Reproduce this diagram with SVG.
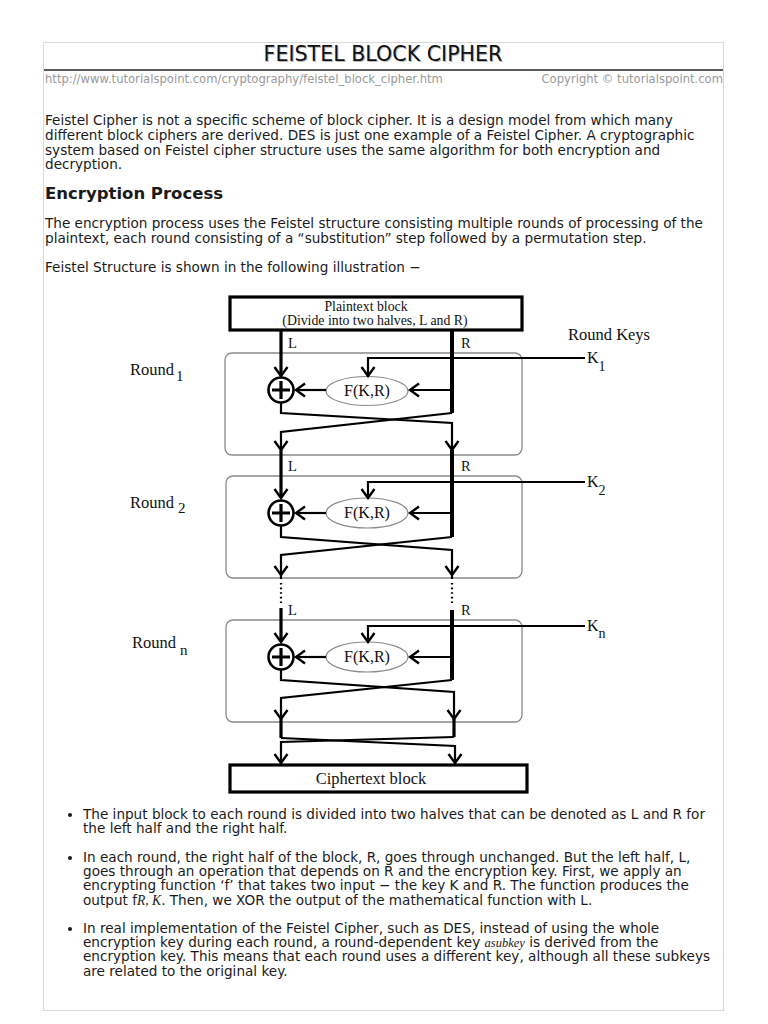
<svg xmlns="http://www.w3.org/2000/svg" width="768" height="1024" viewBox="0 0 768 1024">
<style>
.body{font-family:"DejaVu Sans","Liberation Sans",sans-serif;font-size:13.6px;fill:#1a1a1a}
.head{font-family:"DejaVu Sans","Liberation Sans",sans-serif;font-size:16.5px;font-weight:bold;fill:#1a1a1a}
.ser{font-family:"Liberation Serif","Times New Roman",serif;fill:#111}
.it{font-family:"Liberation Serif","Times New Roman",serif;font-style:italic}
.thick{fill:none;stroke:#000;stroke-width:3.2}
.thin{fill:none;stroke:#000;stroke-width:2.2}
.rbox{fill:none;stroke:#8a8a8a;stroke-width:1.3}
.fn{fill:#fff;stroke:#8a8a8a;stroke-width:1.2}
.xor{fill:#fff;stroke:#000;stroke-width:2.6}
.plus{stroke:#000;stroke-width:3.2}
.blk{fill:#fff;stroke:#000;stroke-width:3.2}
.dot{fill:none;stroke:#000;stroke-width:2.2;stroke-dasharray:1.6 3}
</style>
<defs>
<marker id="ah" viewBox="-11 -9 13 18" refX="0" refY="0" markerWidth="13" markerHeight="18" orient="auto" markerUnits="userSpaceOnUse">
<path d="M-9,-6.5 L0,0 L-9,6.5" fill="none" stroke="#000" stroke-width="2.4"/>
</marker>
</defs>
<rect width="768" height="1024" fill="#fff"/>
<g id="page">
<rect x="43.5" y="42.5" width="680" height="968" fill="none" stroke="#d8d8d8" stroke-width="1"/>
<text x="384" y="62" text-anchor="middle" font-family="DejaVu Sans, sans-serif" font-size="20.6" fill="#bbb">FEISTEL BLOCK CIPHER</text>
<text x="383" y="61" text-anchor="middle" font-family="DejaVu Sans, sans-serif" font-size="20.6" fill="#111">FEISTEL BLOCK CIPHER</text>
<line x1="44" y1="70" x2="723" y2="70" stroke="#5a5a5a" stroke-width="2"/>
<text x="45" y="83" font-family="DejaVu Sans, sans-serif" font-size="11.6" fill="#9a9a9a">http://www.tutorialspoint.com/cryptography/feistel_block_cipher.htm</text>
<text x="723" y="83" text-anchor="end" font-family="DejaVu Sans, sans-serif" font-size="11.6" fill="#9a9a9a">Copyright © tutorialspoint.com</text>
<text class="body" x="45" y="125">Feistel Cipher is not a specific scheme of block cipher. It is a design model from which many</text>
<text class="body" x="45" y="140">different block ciphers are derived. DES is just one example of a Feistel Cipher. A cryptographic</text>
<text class="body" x="45" y="155">system based on Feistel cipher structure uses the same algorithm for both encryption and</text>
<text class="body" x="45" y="169">decryption.</text>
<text class="head" x="45" y="199">Encryption Process</text>
<text class="body" x="45" y="228">The encryption process uses the Feistel structure consisting multiple rounds of processing of the</text>
<text class="body" x="45" y="243">plaintext, each round consisting of a “substitution” step followed by a permutation step.</text>
<text class="body" x="45" y="272">Feistel Structure is shown in the following illustration −</text>
<circle cx="70" cy="815" r="2" fill="#1a1a1a"/>
<text class="body" x="83" y="819">The input block to each round is divided into two halves that can be denoted as L and R for</text>
<text class="body" x="83" y="833">the left half and the right half.</text>
<circle cx="70" cy="858" r="2" fill="#1a1a1a"/>
<text class="body" x="83" y="862">In each round, the right half of the block, R, goes through unchanged. But the left half, L,</text>
<text class="body" x="83" y="876">goes through an operation that depends on R and the encryption key. First, we apply an</text>
<text class="body" x="83" y="890">encrypting function ‘f’ that takes two input − the key K and R. The function produces the</text>
<text class="body" x="83" y="905">output f<tspan class="it">R, K</tspan>. Then, we XOR the output of the mathematical function with L.</text>
<circle cx="70" cy="929" r="2" fill="#1a1a1a"/>
<text class="body" x="83" y="933">In real implementation of the Feistel Cipher, such as DES, instead of using the whole</text>
<text class="body" x="83" y="947">encryption key during each round, a round-dependent key <tspan class="it" font-size="12.5">asubkey</tspan> is derived from the</text>
<text class="body" x="83" y="961">encryption key. This means that each round uses a different key, although all these subkeys</text>
<text class="body" x="83" y="976">are related to the original key.</text>
</g>
<g id="plaintext">
<rect class="blk" x="230" y="297" width="292" height="33"/>
<text class="ser" x="366" y="311" text-anchor="middle" font-size="13.8">Plaintext block</text>
<text class="ser" x="375" y="325" text-anchor="middle" font-size="13.8">(Divide into two halves, L and R)</text>
</g>
<g id="round-keys">
<text class="ser" x="568" y="340" font-size="16.5">Round Keys</text>
<text class="ser" x="587" y="363" font-size="16">K<tspan font-size="14" dy="8">1</tspan></text>
<text class="ser" x="587" y="487" font-size="16">K<tspan font-size="14" dy="8">2</tspan></text>
<text class="ser" x="587" y="631" font-size="16">K<tspan font-size="14" dy="7">n</tspan></text>
</g>
<g id="round1">
<rect class="rbox" x="225" y="353" width="297" height="102" rx="7"/>
<text class="ser" x="130" y="375" font-size="16.5">Round<tspan font-size="15" dx="2" dy="6">1</tspan></text>
<ellipse class="fn" cx="367" cy="391" rx="41" ry="14.5"/>
<text class="ser" x="367" y="396" text-anchor="middle" font-size="16">F(K,R)</text>
<circle class="xor" cx="281" cy="390" r="12.5"/>
<path class="plus" d="M272,390 H290 M281,381 V399"/>
</g>
<g id="round2">
<rect class="rbox" x="226" y="476" width="296" height="102" rx="7"/>
<text class="ser" x="130" y="508" font-size="16.5">Round<tspan font-size="15" dx="4" dy="5">2</tspan></text>
<ellipse class="fn" cx="367" cy="513" rx="41" ry="15"/>
<text class="ser" x="367" y="518" text-anchor="middle" font-size="16">F(K,R)</text>
<circle class="xor" cx="281" cy="513" r="12.5"/>
<path class="plus" d="M272,513 H290 M281,504 V522"/>
</g>
<g id="roundn">
<rect class="rbox" x="226" y="620" width="296" height="102" rx="7"/>
<text class="ser" x="132" y="648" font-size="16.5">Round<tspan font-size="15" dx="4" dy="7">n</tspan></text>
<ellipse class="fn" cx="367" cy="657" rx="41" ry="15"/>
<text class="ser" x="367" y="662" text-anchor="middle" font-size="16">F(K,R)</text>
<circle class="xor" cx="281" cy="657" r="12.5"/>
<path class="plus" d="M272,657 H290 M281,648 V666"/>
</g>
<g id="ciphertext">
<rect class="blk" x="230" y="765" width="297" height="27"/>
<text class="ser" x="371" y="784" text-anchor="middle" font-size="16.5">Ciphertext block</text>
</g>
<g id="connectors">
<text class="ser" x="288" y="348" font-size="14.5">L</text>
<text class="ser" x="461" y="348" font-size="14.5">R</text>
<text class="ser" x="288" y="471" font-size="14.5">L</text>
<text class="ser" x="461" y="471" font-size="14.5">R</text>
<text class="ser" x="288" y="615" font-size="14.5">L</text>
<text class="ser" x="461" y="615" font-size="14.5">R</text>
<path class="thick" d="M281,331 V376" marker-end="url(#ah)"/>
<path class="thick" d="M452,331 V413" style="stroke-width:4"/>
<path class="thin" d="M452,390 H410" marker-end="url(#ah)"/>
<path class="thin" d="M326,390 H296" marker-end="url(#ah)"/>
<path class="thin" d="M585,358 H368 V376" marker-end="url(#ah)"/>
<path class="thin" d="M281,403 V413 L452,423 V450" marker-end="url(#ah)"/>
<path class="thin" d="M452,413 L281,432 V450" marker-end="url(#ah)"/>
<path class="thick" d="M281,450 V498" marker-end="url(#ah)"/>
<path class="thick" d="M452,450 V537" style="stroke-width:4"/>
<path class="thin" d="M452,513 H410" marker-end="url(#ah)"/>
<path class="thin" d="M326,513 H296" marker-end="url(#ah)"/>
<path class="thin" d="M585,482 H368 V498" marker-end="url(#ah)"/>
<path class="thin" d="M281,526 V537 L452,550 V575" marker-end="url(#ah)"/>
<path class="thin" d="M452,537 L281,555 V575" marker-end="url(#ah)"/>
<path class="thin" d="M281,575 V579 M452,575 V579"/>
<path class="dot" d="M281,583 V606 M452,583 V606"/>
<path class="thick" d="M281,608 V642" marker-end="url(#ah)"/>
<path class="thick" d="M452,610 V680" style="stroke-width:4"/>
<path class="thin" d="M452,657 H410" marker-end="url(#ah)"/>
<path class="thin" d="M326,657 H296" marker-end="url(#ah)"/>
<path class="thin" d="M585,626 H368 V642" marker-end="url(#ah)"/>
<path class="thin" d="M281,670 V680 L454,692 V719" marker-end="url(#ah)"/>
<path class="thin" d="M452,680 L281,698 V719" marker-end="url(#ah)"/>
<path class="thick" d="M281,719 V738 M454,719 V737"/>
<path class="thin" d="M281,738 L455,746 V763" marker-end="url(#ah)"/>
<path class="thin" d="M454,737 L281,742 V763" marker-end="url(#ah)"/>
</g>
</svg>
